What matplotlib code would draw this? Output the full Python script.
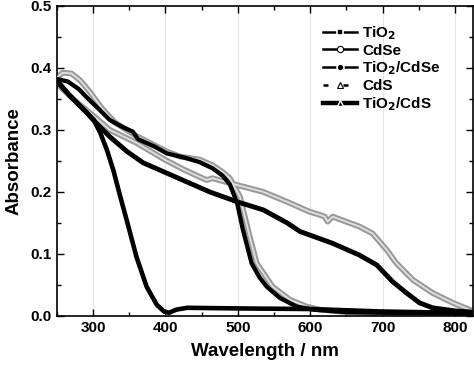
import matplotlib
matplotlib.use("Agg")
import matplotlib.pyplot as plt
from matplotlib.lines import Line2D
from matplotlib.ticker import MultipleLocator

plt.rcParams['font.family'] = ['Liberation Sans', 'DejaVu Sans']
plt.rcParams['font.weight'] = 'bold'

tio2_wl = [250, 268, 291, 301, 310, 319, 328, 337, 347, 360, 374, 388, 398, 405, 415, 430, 500, 600, 700, 800, 825]
tio2_ab = [0.378, 0.355, 0.328, 0.316, 0.295, 0.268, 0.235, 0.195, 0.152, 0.095, 0.047, 0.018, 0.007, 0.005, 0.010, 0.013, 0.012, 0.011, 0.007, 0.005, 0.004]

cdse_wl = [250, 258, 270, 282, 295, 312, 330, 360, 385, 402, 420, 447, 465, 479, 489, 503, 514, 526, 548, 572, 595, 613, 650, 700, 825]
cdse_ab = [0.385, 0.392, 0.391, 0.380, 0.362, 0.335, 0.312, 0.290, 0.275, 0.265, 0.257, 0.252, 0.243, 0.232, 0.222, 0.192, 0.139, 0.085, 0.047, 0.026, 0.015, 0.010, 0.006, 0.004, 0.003]

tio2cdse_wl = [250, 265, 280, 295, 305, 323, 340, 355, 362, 385, 402, 427, 447, 465, 479, 489, 499, 507, 519, 530, 540, 558, 581, 605, 650, 700, 825]
tio2cdse_ab = [0.382, 0.378, 0.366, 0.348, 0.337, 0.316, 0.305, 0.297, 0.285, 0.273, 0.262, 0.255, 0.248, 0.238, 0.226, 0.212, 0.182, 0.139, 0.085, 0.062, 0.047, 0.029, 0.015, 0.010, 0.006, 0.005, 0.004]

cds_wl = [250, 265, 280, 296, 323, 360, 399, 427, 457, 465, 499, 535, 568, 599, 613, 620, 624, 631, 668, 686, 706, 719, 742, 769, 797, 820, 825]
cds_ab = [0.375, 0.358, 0.342, 0.327, 0.300, 0.279, 0.252, 0.235, 0.219, 0.222, 0.211, 0.200, 0.184, 0.168, 0.163, 0.160, 0.152, 0.160, 0.144, 0.133, 0.106, 0.085, 0.058, 0.037, 0.021, 0.010, 0.008]

tio2cds_wl = [250, 268, 291, 305, 323, 347, 369, 416, 461, 499, 535, 568, 586, 631, 668, 692, 714, 733, 751, 769, 800, 825]
tio2cds_ab = [0.380, 0.355, 0.328, 0.310, 0.289, 0.265, 0.247, 0.223, 0.200, 0.184, 0.171, 0.150, 0.136, 0.117, 0.098, 0.082, 0.055, 0.037, 0.021, 0.013, 0.008, 0.006]

labels = ['TiO$_2$', 'CdSe', 'TiO$_2$/CdSe', 'CdS', 'TiO$_2$/CdS']

fig = plt.figure(figsize=(4.74, 3.66), dpi=100)
ax = fig.add_axes([0.120, 0.137, 0.878, 0.847])

for x in [300, 400, 500, 600, 700, 800]:
    ax.axvline(x, color='#e6e6e6', lw=0.8, zorder=0)

# gray hollow-marker bands
for wl, ab in [(cds_wl, cds_ab), (cdse_wl, cdse_ab)]:
    ax.plot(wl, ab, color='#999999', lw=4.2, solid_capstyle='round', solid_joinstyle='round', zorder=2)
    ax.plot(wl, ab, color='#e0e0e0', lw=1.3, solid_joinstyle='round', zorder=3)

ax.plot(tio2_wl, tio2_ab, color='black', lw=3.3, solid_joinstyle='round', zorder=4)
ax.plot(tio2cdse_wl, tio2cdse_ab, color='black', lw=3.1, solid_joinstyle='round', zorder=4)
ax.plot(tio2cds_wl, tio2cds_ab, color='black', lw=3.5, solid_joinstyle='round', zorder=4)

ax.set_xlim(250, 825)
ax.set_ylim(0.0, 0.5)
ax.xaxis.set_major_locator(MultipleLocator(100))
ax.xaxis.set_minor_locator(MultipleLocator(50))
ax.yaxis.set_major_locator(MultipleLocator(0.1))
ax.yaxis.set_minor_locator(MultipleLocator(0.05))
ax.tick_params(which='both', direction='in', top=True, right=True, labelsize=11, width=1.0)
ax.tick_params(which='major', length=5)
ax.tick_params(which='minor', length=3)
for lab in ax.get_xticklabels() + ax.get_yticklabels():
    lab.set_fontweight('bold')
for s in ax.spines.values():
    s.set_linewidth(1.2)

ax.set_xlabel('Wavelength / nm', fontsize=13.5, fontweight='bold', labelpad=6)
ax.set_ylabel('Absorbance', fontsize=13.5, fontweight='bold', labelpad=6)

handles = [
    Line2D([], [], color='black', lw=1.8, marker='s', ms=4.5, mec='white', mew=1.2),
    Line2D([], [], color='black', lw=1.8, marker='o', ms=4.5, mfc='white', mec='black', mew=0.8),
    Line2D([], [], color='black', lw=1.8, marker='o', ms=5, mec='white', mew=1.2),
    Line2D([], [], color='black', lw=1.8, ls=(0, (2, 6)), marker='^', ms=4.5, mfc='white', mew=0.8),
    Line2D([], [], color='black', lw=3.2, marker='^', ms=5, mec='white', mew=1.0),
]
leg = ax.legend(handles, labels, loc='upper right', bbox_to_anchor=(0.955, 0.985), frameon=False,
                handlelength=2.2, handletextpad=0.35, labelspacing=0.12,
                prop={'weight': 'bold', 'size': 11})

fig.savefig('out.png', dpi=100)
